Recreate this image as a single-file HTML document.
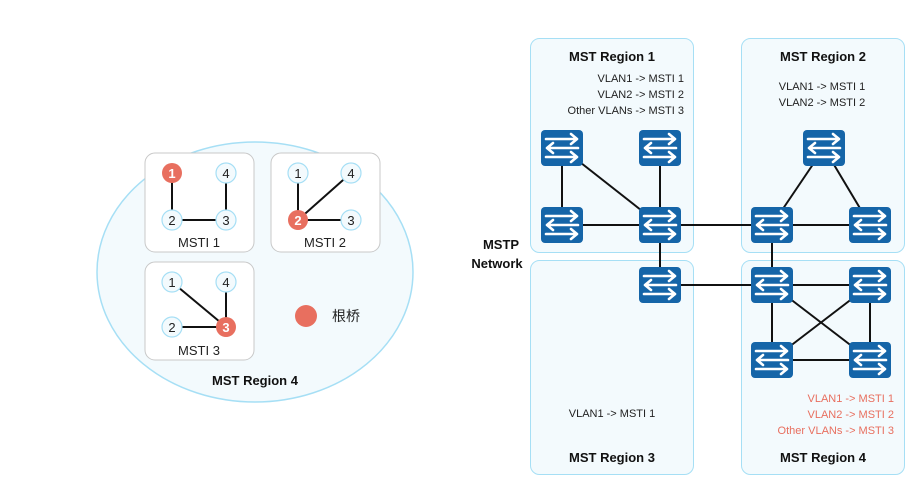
<!DOCTYPE html>
<html><head><meta charset="utf-8"><style>
html,body{margin:0;padding:0;background:#fff;}
svg{display:block;font-family:"Liberation Sans","Noto Sans CJK SC",sans-serif;}
</style></head><body>
<svg width="923" height="477" viewBox="0 0 923 477" xmlns="http://www.w3.org/2000/svg">
<defs>
<g id="sw">
<rect x="-21" y="-18" width="42" height="36" rx="4" fill="#1565a8"/>
<g stroke="#fff" stroke-width="2.6" fill="none" stroke-linecap="round" stroke-linejoin="round">
<path d="M-16,-9 H15 M9,-14 L15,-9 L9,-4"/>
<path d="M16,0 H-15 M-9,-5 L-15,0 L-9,5"/>
<path d="M-16,9 H15 M9,4 L15,9 L9,14"/>
</g>
</g>
</defs>

<ellipse cx="255" cy="272" rx="158" ry="130" fill="#f3fafd" stroke="#a6dff5" stroke-width="1.5"/>
<g fill="#fff" stroke="#c8c8c8" stroke-width="1">
<rect x="145" y="153" width="109" height="99" rx="10"/>
<rect x="271" y="153" width="109" height="99" rx="10"/>
<rect x="145" y="262" width="109" height="98" rx="10"/>
</g>
<g stroke="#111" stroke-width="2">
<line x1="172" y1="173" x2="172" y2="220"/><line x1="172" y1="220" x2="226" y2="220"/><line x1="226" y1="173" x2="226" y2="220"/>
<line x1="298" y1="173" x2="298" y2="220"/><line x1="298" y1="220" x2="351" y2="173"/><line x1="298" y1="220" x2="351" y2="220"/>
<line x1="172" y1="282" x2="226" y2="327"/><line x1="226" y1="282" x2="226" y2="327"/><line x1="172" y1="327" x2="226" y2="327"/>
</g>
<g font-size="13" text-anchor="middle">
<g stroke="#a6dff5" stroke-width="1.2" fill="#f3fafd">
<circle cx="226" cy="173" r="10"/><circle cx="172" cy="220" r="10"/><circle cx="226" cy="220" r="10"/>
<circle cx="298" cy="173" r="10"/><circle cx="351" cy="173" r="10"/><circle cx="351" cy="220" r="10"/>
<circle cx="172" cy="282" r="10"/><circle cx="226" cy="282" r="10"/><circle cx="172" cy="327" r="10"/>
</g>
<g fill="#e86f5f"><circle cx="172" cy="173" r="10"/><circle cx="298" cy="220" r="10"/><circle cx="226" cy="327" r="10"/><circle cx="306" cy="316" r="11"/></g>
<g fill="#222">
<text x="226" y="178">4</text><text x="172" y="225">2</text><text x="226" y="225">3</text>
<text x="298" y="178">1</text><text x="351" y="178">4</text><text x="351" y="225">3</text>
<text x="172" y="287">1</text><text x="226" y="287">4</text><text x="172" y="332">2</text>
</g>
<g fill="#fff" font-weight="bold"><text x="172" y="178">1</text><text x="298" y="225">2</text><text x="226" y="332">3</text></g>
<g fill="#222"><text x="199" y="247">MSTI 1</text><text x="325" y="247">MSTI 2</text><text x="199" y="355">MSTI 3</text></g>
</g>
<text x="332" y="321" font-size="14" fill="#222">根桥</text>
<text x="255" y="385" font-size="13" font-weight="bold" text-anchor="middle" fill="#111">MST Region 4</text>

<text x="501" y="249" font-size="13" font-weight="bold" text-anchor="middle" fill="#111">MSTP</text>
<text x="497" y="268" font-size="13" font-weight="bold" text-anchor="middle" fill="#111">Network</text>

<g fill="#f3fafd" stroke="#a6dff5" stroke-width="1">
<rect x="530.5" y="38.5" width="163" height="214" rx="9"/>
<rect x="741.5" y="38.5" width="163" height="214" rx="9"/>
<rect x="530.5" y="260.5" width="163" height="214" rx="9"/>
<rect x="741.5" y="260.5" width="163" height="214" rx="9"/>
</g>
<g font-size="13" font-weight="bold" text-anchor="middle" fill="#111">
<text x="612" y="61">MST Region 1</text><text x="823" y="61">MST Region 2</text>
<text x="612" y="462">MST Region 3</text><text x="823" y="462">MST Region 4</text>
</g>
<g font-size="11" fill="#222" text-anchor="end">
<text x="684" y="82">VLAN1 -&gt; MSTI 1</text><text x="684" y="98">VLAN2 -&gt; MSTI 2</text><text x="684" y="114">Other VLANs -&gt; MSTI 3</text>
</g>
<g font-size="11" fill="#222" text-anchor="middle">
<text x="822" y="90">VLAN1 -&gt; MSTI 1</text><text x="822" y="106">VLAN2 -&gt; MSTI 2</text>
<text x="612" y="417">VLAN1 -&gt; MSTI 1</text>
</g>
<g font-size="11" fill="#e86f5f" text-anchor="end">
<text x="894" y="402">VLAN1 -&gt; MSTI 1</text><text x="894" y="418">VLAN2 -&gt; MSTI 2</text><text x="894" y="434">Other VLANs -&gt; MSTI 3</text>
</g>

<g stroke="#111" stroke-width="2">
<line x1="562" y1="148" x2="562" y2="225"/><line x1="562" y1="148" x2="660" y2="225"/>
<line x1="660" y1="148" x2="660" y2="285"/><line x1="562" y1="225" x2="870" y2="225"/>
<line x1="824" y1="148" x2="772" y2="225"/><line x1="824" y1="148" x2="870" y2="225"/>
<line x1="660" y1="285" x2="870" y2="285"/><line x1="772" y1="225" x2="772" y2="360"/>
<line x1="870" y1="285" x2="870" y2="360"/><line x1="772" y1="285" x2="870" y2="360"/>
<line x1="870" y1="285" x2="772" y2="360"/><line x1="772" y1="360" x2="870" y2="360"/>
</g>

<use href="#sw" x="562" y="148"/><use href="#sw" x="660" y="148"/>
<use href="#sw" x="562" y="225"/><use href="#sw" x="660" y="225"/>
<use href="#sw" x="824" y="148"/><use href="#sw" x="772" y="225"/><use href="#sw" x="870" y="225"/>
<use href="#sw" x="660" y="285"/>
<use href="#sw" x="772" y="285"/><use href="#sw" x="870" y="285"/>
<use href="#sw" x="772" y="360"/><use href="#sw" x="870" y="360"/>
</svg>
</body></html>
